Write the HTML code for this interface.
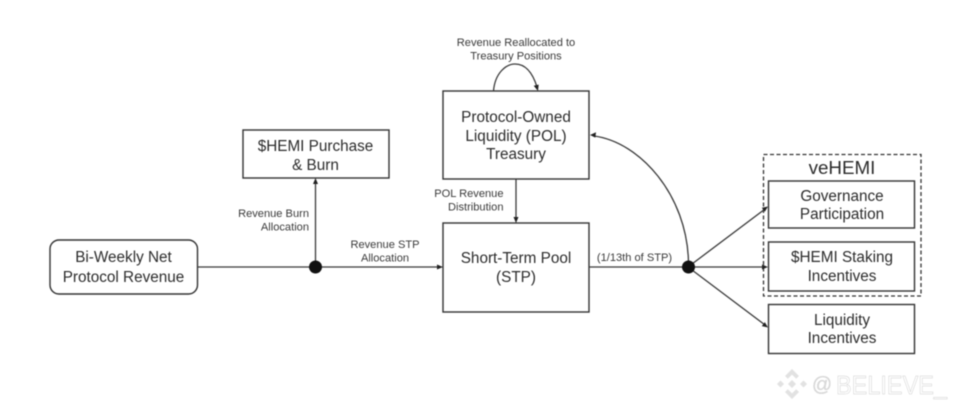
<!DOCTYPE html>
<html>
<head>
<meta charset="utf-8">
<style>
html,body{margin:0;padding:0;background:#fff;width:955px;height:410px;overflow:hidden}
svg{display:block;filter:blur(.5px)}
text{font-family:"Liberation Sans",sans-serif;fill:#2c2c2c;text-anchor:middle}
.b{font-size:15.300px}
.s{font-size:11.100px;fill:#3a3a3a}
.r{text-anchor:end}
.box{fill:#fff;stroke:#333;stroke-width:1.400}
.ln{fill:none;stroke:#3a3a3a;stroke-width:1.300}
.ah{fill:#222}
</style>
</head>
<body>
<svg width="955" height="410" viewBox="0 0 955 410" xmlns="http://www.w3.org/2000/svg">
<rect x="50" y="240" width="147.500" height="54" rx="9" class="box"/>
<rect x="243" y="130" width="146" height="48" class="box"/>
<rect x="443" y="91" width="146" height="88" class="box"/>
<rect x="443" y="223" width="146" height="89" class="box"/>
<rect x="763.500" y="154.500" width="157.500" height="141.500" fill="none" stroke="#333" stroke-width="1.300" stroke-dasharray="4 2.500"/>
<rect x="768.500" y="181" width="146" height="47" class="box"/>
<rect x="768.500" y="242" width="146" height="49" class="box"/>
<rect x="768.500" y="304.500" width="146" height="49" class="box"/>

<path class="ln" d="M197.500 267H439"/>
<path class="ln" d="M315.500 267V182"/>
<path class="ln" d="M516 179V219"/>
<path class="ln" d="M589 267H688"/>
<path class="ln" d="M688 267H765"/>
<path class="ln" d="M688 267L765 209"/>
<path class="ln" d="M688 267L765 325"/>
<path class="ln" d="M688.500 262C687 195 640 142 594 136"/>
<path class="ln" d="M493.500 91C495 73 506 64 515 64C526 64 533 74 537 87"/>

<path class="ah" d="M443 267l-6-2.500v5z"/>
<path class="ah" d="M315.500 178l-2.500 6h5z"/>
<path class="ah" d="M516 223l-2.500-6h5z"/>
<path class="ah" d="M768 267l-6-2.500v5z"/>
<path class="ah" d="M768 206.500l-6.200 1.200 3 4z"/>
<path class="ah" d="M768 327.500l-3.200-5.400-3 4z"/>
<path class="ah" d="M590 135l6 -2.800-.7 5.400z"/>
<path class="ah" d="M538 91l-4.300-5.200 5-1.200z"/>

<circle cx="315.500" cy="267" r="6.500" fill="#111"/>
<circle cx="688.500" cy="267" r="6.500" fill="#111"/>

<text class="b" x="123.500" y="262">Bi-Weekly Net</text>
<text class="b" x="123.500" y="282">Protocol Revenue</text>
<text class="b" x="315.500" y="151">$HEMI Purchase</text>
<text class="b" x="315.500" y="170">&amp; Burn</text>
<text class="b" x="516" y="122">Protocol-Owned</text>
<text class="b" x="516" y="141">Liquidity (POL)</text>
<text class="b" x="516" y="159">Treasury</text>
<text class="b" x="516" y="263">Short-Term Pool</text>
<text class="b" x="516" y="282">(STP)</text>
<text x="842" y="174" style="font-size:18.800px">veHEMI</text>
<text class="b" x="842" y="201">Governance</text>
<text class="b" x="842" y="219">Participation</text>
<text class="b" x="842" y="262">$HEMI Staking</text>
<text class="b" x="842" y="281">Incentives</text>
<text class="b" x="842" y="325">Liquidity</text>
<text class="b" x="842" y="343">Incentives</text>

<text class="s" x="516" y="46">Revenue Reallocated to</text>
<text class="s" x="516" y="59.500">Treasury Positions</text>
<text class="s r" x="309" y="217">Revenue Burn</text>
<text class="s r" x="309" y="230.500">Allocation</text>
<text class="s" x="385" y="248">Revenue STP</text>
<text class="s" x="385" y="261.500">Allocation</text>
<text class="s r" x="503.500" y="197">POL Revenue</text>
<text class="s r" x="503.500" y="210.500">Distribution</text>
<text class="s" x="634.500" y="261">(1/13th of STP)</text>

<g fill="#e2e2e2">
<path d="M792 369l7 7-2.800 2.800-4.200-4.200-4.200 4.200-2.800-2.800z"/>
<path d="M792 399l7-7-2.800-2.800-4.200 4.200-4.200-4.200-2.800 2.800z"/>
<path d="M777 384l3.500-3.500 3.500 3.500-3.500 3.500z"/>
<path d="M800 384l3.500-3.500 3.500 3.500-3.500 3.500z"/>
<path d="M792 380l4 4-4 4-4-4z"/>
</g>
<text x="822" y="391" style="font-size:20px;fill:#d8d8d8;stroke:#d8d8d8;stroke-width:.3">@</text>
<text x="836" y="394" textLength="111" lengthAdjust="spacingAndGlyphs" style="font-size:26px;text-anchor:start;fill:#fff;stroke:#cfcfcf;stroke-width:.5">BELIEVE_</text>
</svg>
</body>
</html>
